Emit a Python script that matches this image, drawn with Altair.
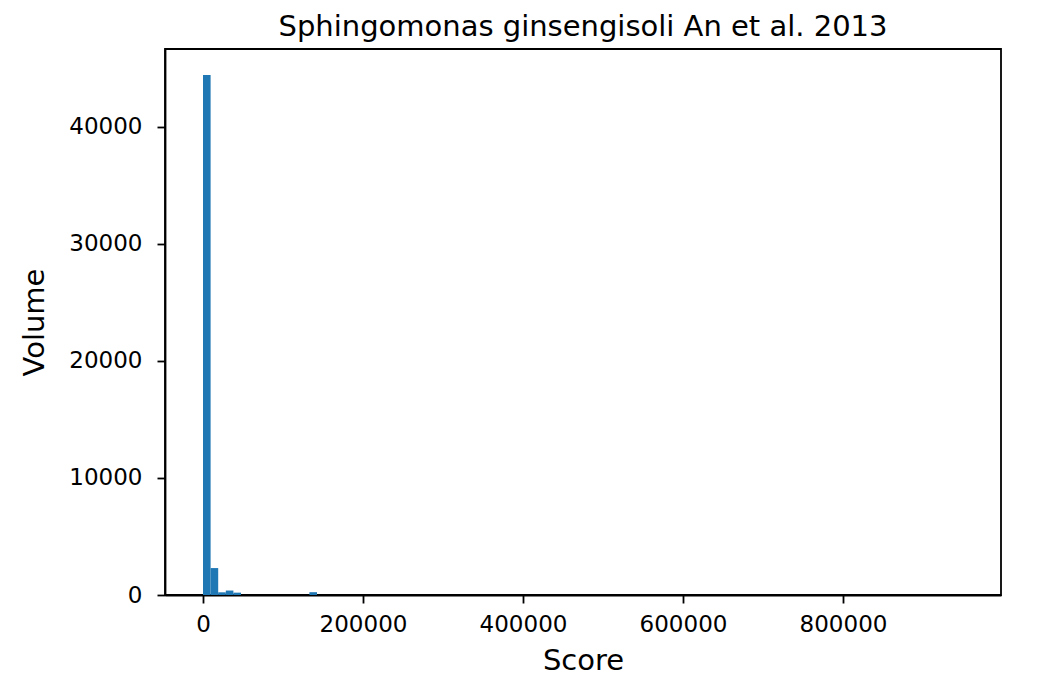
import altair as alt
import pandas as pd

# Histogram: 100 bins from 0 to 950000 (bin width 9500)
bin_width = 9500
bin_index = [0, 1, 2, 3, 4, 14, 99]
bin_count = [44400, 2300, 230, 380, 200, 240, 1]

title_text = "Sphingomonas ginsengisoli An et al. 2013"
x_ticks = [0, 200000, 400000, 600000, 800000]
y_ticks = [0, 10000, 20000, 30000, 40000]

df = pd.DataFrame({
    "start": [i * bin_width for i in bin_index],
    "end": [(i + 1) * bin_width for i in bin_index],
    "count": bin_count,
    "base": [0] * len(bin_index),
})

FONT = "DejaVu Sans"

chart = alt.Chart(df).mark_bar(color="#1f77b4", strokeWidth=0).encode(
    x=alt.X("start:Q",
            scale=alt.Scale(domain=[-47500, 997500], nice=False, zero=False),
            axis=alt.Axis(values=x_ticks, format="d", title="Score", grid=False,
                          tickSize=8, labelPadding=10, titlePadding=10)),
    x2="end:Q",
    y=alt.Y("count:Q",
            scale=alt.Scale(domain=[0, 46620], nice=False),
            axis=alt.Axis(values=y_ticks, format="d", title="Volume", grid=False,
                          tickSize=8, labelPadding=15, titlePadding=19)),
    y2="base:Q",
).properties(
    width=836,
    height=546,
    title=alt.TitleParams(title_text, fontSize=29, font=FONT, fontWeight="normal",
                          color="#000000", offset=7),
    autosize=alt.AutoSizeParams(type="none"),
    padding={"left": 157, "top": 41, "right": 40, "bottom": 90},
).configure_view(
    stroke="#000000", strokeWidth=1.8
).configure_axis(
    domainColor="#000000", domainWidth=1.8, tickColor="#000000", tickWidth=1.8,
    labelFont=FONT, labelFontSize=23, labelColor="#000000",
    titleFont=FONT, titleFontSize=29, titleColor="#000000", titleFontWeight="normal",
)

chart.save("out.html", embed_options={"renderer": "svg", "actions": False})
